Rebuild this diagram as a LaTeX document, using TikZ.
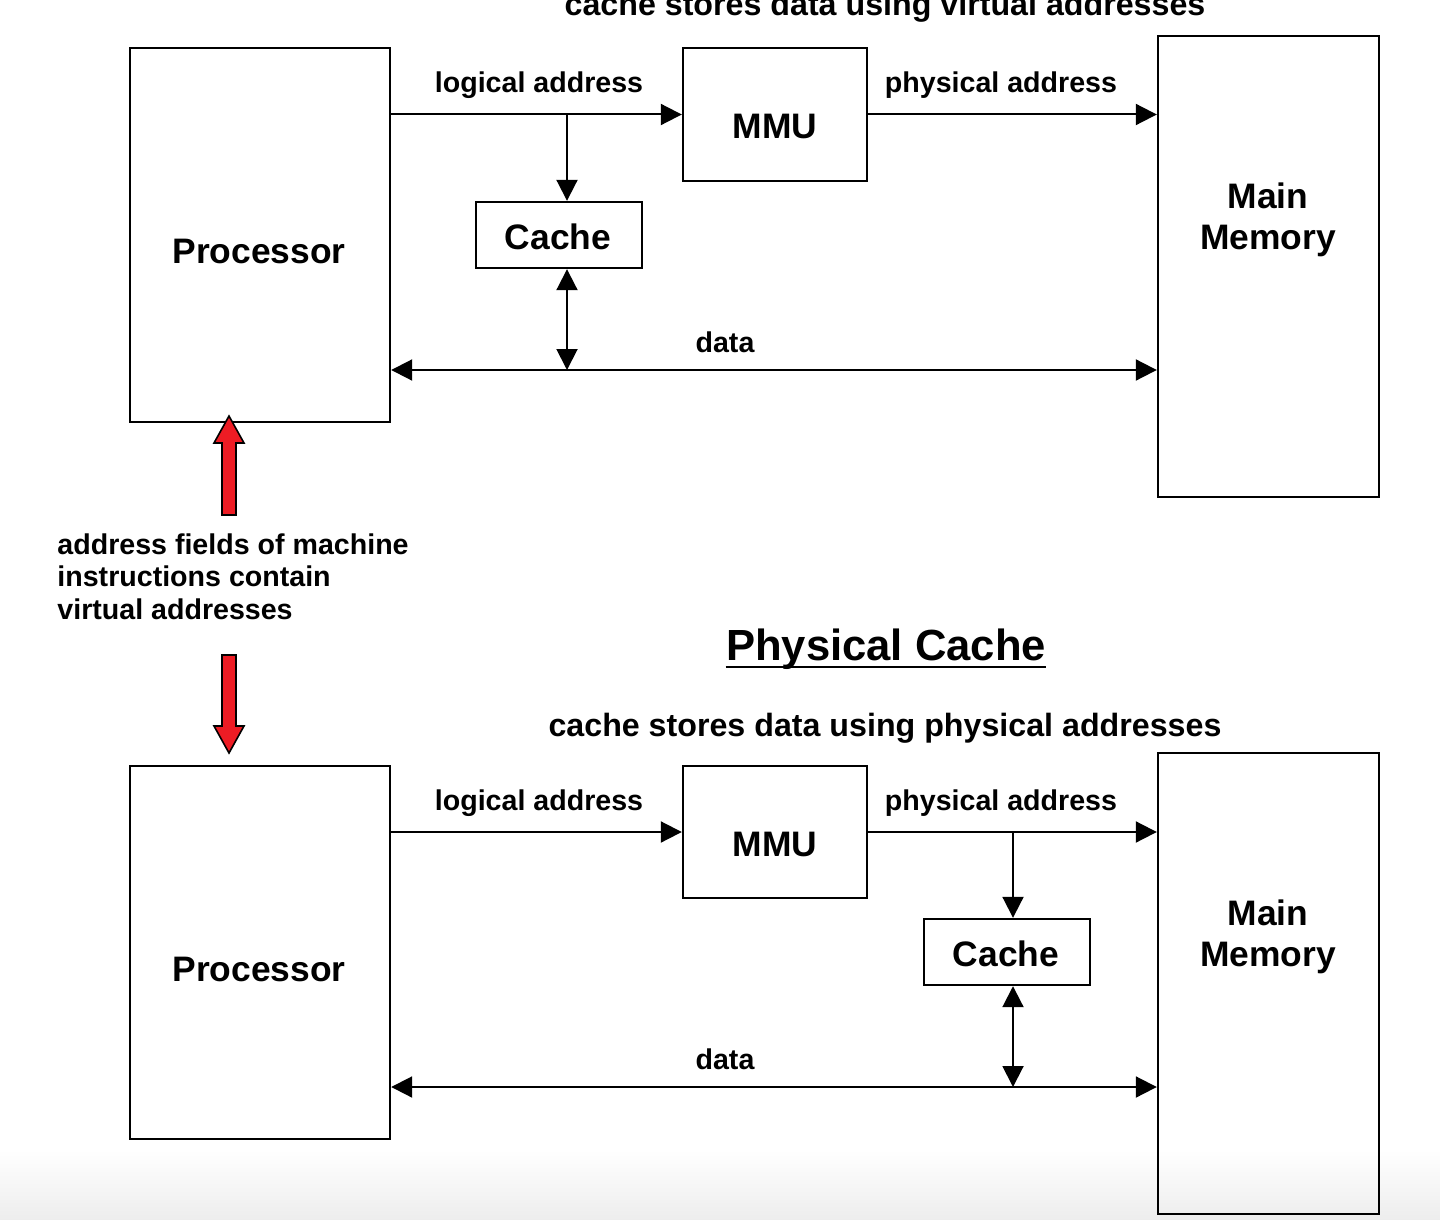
\documentclass[tikz,border=0pt]{standalone}
\usepackage{fontspec}
\setmainfont{Liberation Sans}
\usepackage{xcolor}
\usepackage{tikz}
\usetikzlibrary{arrows.meta, positioning}

\definecolor{arrowred}{RGB}{237,28,36}

\tikzset{
    unit/.style={draw, line width=1.2pt, inner sep=0pt},
    unitname/.style={inner sep=0pt, font=\fontsize{17.7}{20.5}\selectfont\bfseries, align=center},
    wirename/.style={inner sep=0pt, font=\fontsize{14.3}{16.25}\selectfont\bfseries},
    caption/.style={inner sep=0pt, font=\fontsize{16.1}{19}\selectfont\bfseries},
    wire/.style={line width=1pt, -{Triangle[length=10.5pt,width=10.5pt]}},
    bus/.style={line width=1pt, {Triangle[length=10.5pt,width=10.5pt]}-{Triangle[length=10.5pt,width=10.5pt]}},
    blockarrow/.style={fill=arrowred, draw=black, line width=0.8pt, line join=miter}
}

\begin{document}
\begin{tikzpicture}[x=0.5pt,y=-0.5pt]
    \useasboundingbox (0,0) rectangle (1440,1220);
    \shade[top color=white, bottom color=black!7] (0,1150) rectangle (1440,1220);

    % Virtual cache on top
    \node[caption, anchor=base] (vcap) at (885,16) {cache stores data using virtual addresses};

    \node[unit, minimum width=130pt, minimum height=187pt] (proc1) at (260,235) {};
    \node[unit, minimum width=92pt, minimum height=66.5pt] (mmu1) at (775,114.5) {};
    \node[unit, minimum width=110.5pt, minimum height=230.5pt] (mem1) at (1268.5,266.5) {};
    \node[unit, minimum width=83pt, minimum height=33pt] (cache1) at (559,235) {};
    \node[unitname, anchor=base] (proc1name) at (259,263) {Processor};
    \node[unitname, anchor=base] (mmu1name) at (775,139) {MMU};
    \node[unitname, anchor=north] (mem1name) at (1268,182) {Main\\Memory};
    \node[unitname, anchor=base] (cache1name) at (558,249) {Cache};

    \coordinate (tap1) at (567,114.5);
    \coordinate (dat1) at (567,370);
    \draw[wire] (proc1.east |- mmu1.west) -- (mmu1.west);
    \draw[wire] (mmu1.east) -- (mem1.west |- mmu1.east);
    \draw[wire] (tap1) -- (tap1 |- cache1.north);
    \draw[bus] (proc1.east |- dat1) -- (mem1.west |- dat1);
    \draw[bus] (cache1.south -| dat1) -- (dat1);
    \node[wirename, anchor=base] (log1) at (539,93) {logical address};
    \node[wirename, anchor=base] (phy1) at (1001,93) {physical address};
    \node[wirename, anchor=base] (data1) at (725,352) {data};

    % Red arrows and note in the middle
    \draw[blockarrow] (229,416) -- (244,443) -- (236,443) -- (236,515)
        -- (222,515) -- (222,443) -- (214,443) -- cycle;
    \node[wirename, anchor=north west, align=left] (note) at (57,533)
        {address fields of machine\\instructions contain\\virtual addresses};
    \draw[blockarrow] (229,753) -- (244,726) -- (236,726) -- (236,655)
        -- (222,655) -- (222,726) -- (214,726) -- cycle;

    % Physical cache at the bottom
    \node[inner sep=0pt, font=\fontsize{21.8}{26}\selectfont\bfseries, anchor=base] (phead) at (886,660) {Physical Cache};
    \draw[line width=1.4pt] ([yshift=-3.5pt]phead.base west) -- ([yshift=-3.5pt]phead.base east);
    \node[caption, anchor=base] (pcap) at (885,736) {cache stores data using physical addresses};

    \node[unit, minimum width=130pt, minimum height=186.5pt] (proc2) at (260,952.5) {};
    \node[unit, minimum width=92pt, minimum height=66pt] (mmu2) at (775,832) {};
    \node[unit, minimum width=110.5pt, minimum height=230.5pt] (mem2) at (1268.5,983.5) {};
    \node[unit, minimum width=83pt, minimum height=33pt] (cache2) at (1007,952) {};
    \node[unitname, anchor=base] (proc2name) at (259,981) {Processor};
    \node[unitname, anchor=base] (mmu2name) at (775,856) {MMU};
    \node[unitname, anchor=north] (mem2name) at (1268,899) {Main\\Memory};
    \node[unitname, anchor=base] (cache2name) at (1006,966) {Cache};

    \coordinate (tap2) at (1013,832);
    \coordinate (dat2) at (1013,1087);
    \draw[wire] (proc2.east |- mmu2.west) -- (mmu2.west);
    \draw[wire] (mmu2.east) -- (mem2.west |- mmu2.east);
    \draw[wire] (tap2) -- (tap2 |- cache2.north);
    \draw[bus] (proc2.east |- dat2) -- (mem2.west |- dat2);
    \draw[bus] (cache2.south -| dat2) -- (dat2);
    \node[wirename, anchor=base] (log2) at (539,810) {logical address};
    \node[wirename, anchor=base] (phy2) at (1001,810) {physical address};
    \node[wirename, anchor=base] (data2) at (725,1069) {data};

\end{tikzpicture}
\end{document}
